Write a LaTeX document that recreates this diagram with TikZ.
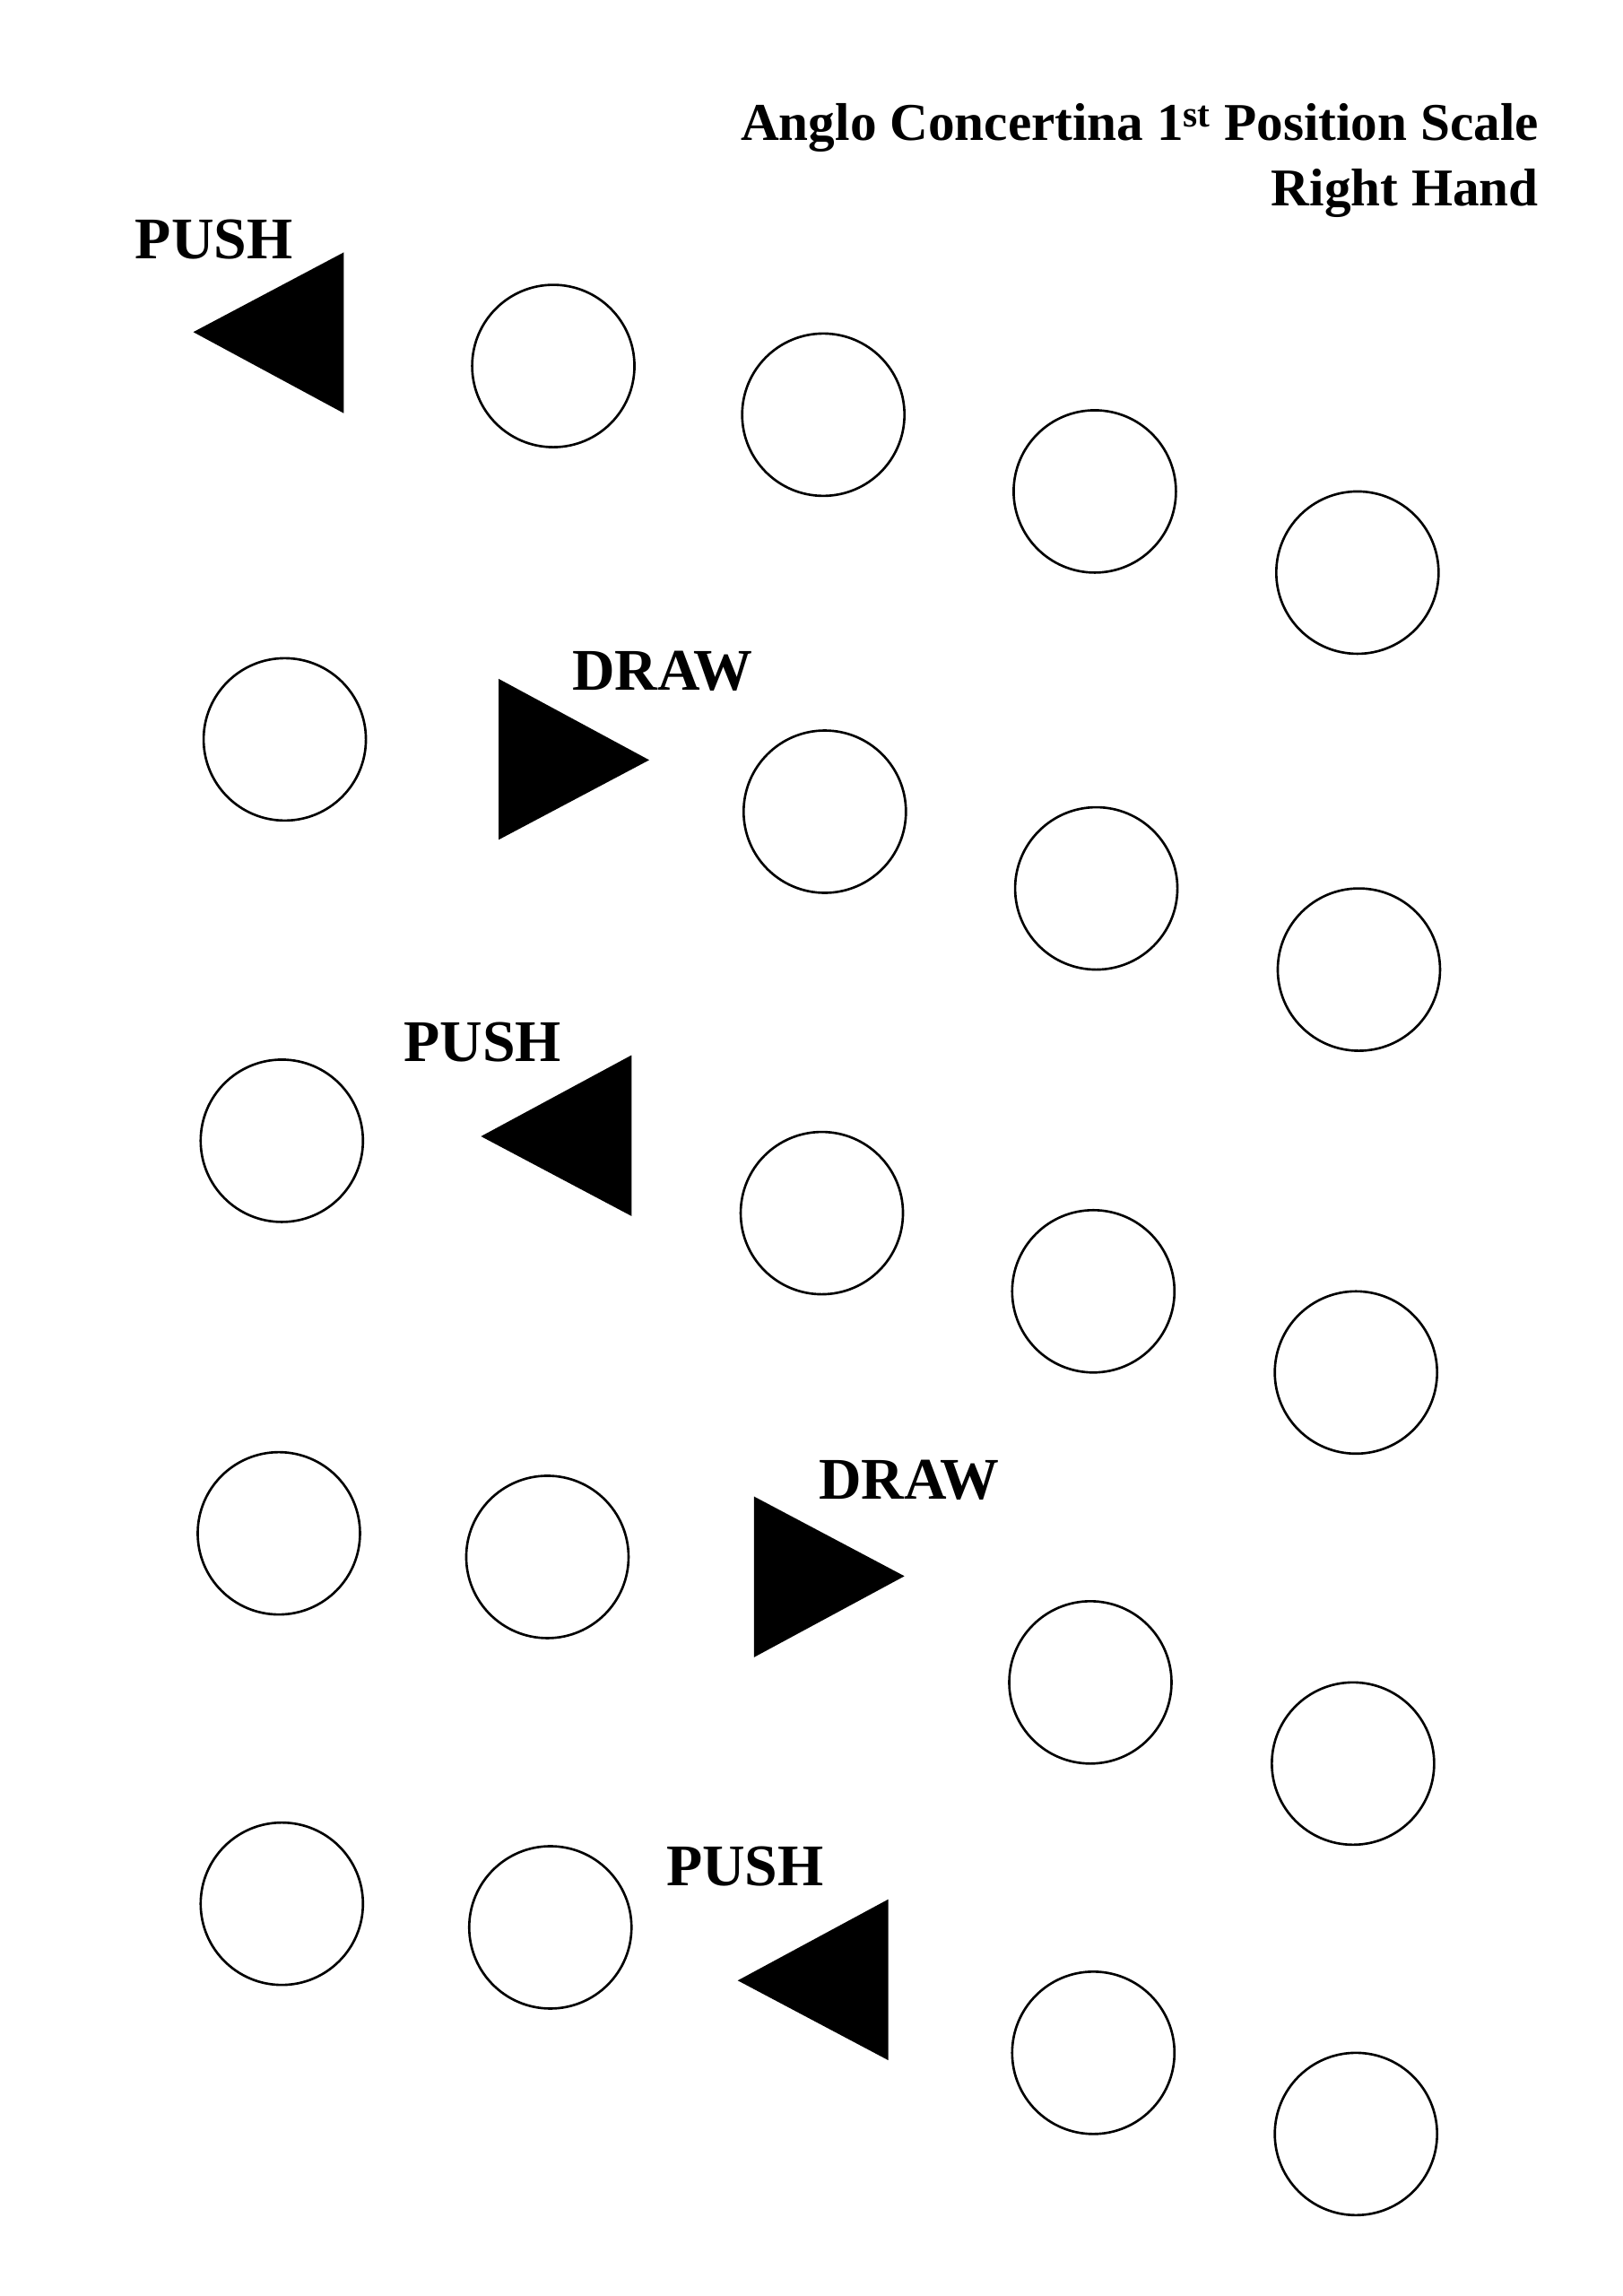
\documentclass[tikz,border=0pt]{standalone}
\usepackage{fontspec}
\setmainfont{Liberation Serif}
\begin{document}
\begin{tikzpicture}[x=1pt,y=-1pt,
  key/.style={circle,draw,line width=1.6pt,minimum size=110pt,inner sep=0pt},
  lbl/.style={font=\bfseries\fontsize{40}{44}\selectfont,inner sep=0pt},
  tri/.style={fill=black}]
\useasboundingbox (0,0) rectangle (1100,1555.8);
\node[font=\bfseries\fontsize{36}{44}\selectfont,align=right,anchor=north east,inner sep=0pt] (title) at (1043,70) {Anglo Concertina 1\textsuperscript{st} Position Scale\\Right Hand};
% row 1
\node[lbl] (l1) at (145,162) {PUSH};
\fill[tri] (131,225) -- (233,171) -- (233,280) -- cycle;
\node[key] (a1) at (375,248) {}; \node[key] (a2) at (558,281) {};
\node[key] (a3) at (742,333) {}; \node[key] (a4) at (920,388) {};
% row 2
\node[key] (b1) at (193,501) {};
\node[lbl] (l2) at (449,455) {DRAW};
\fill[tri] (440,515) -- (338,460) -- (338,569) -- cycle;
\node[key] (b2) at (559,550) {}; \node[key] (b3) at (743,602) {}; \node[key] (b4) at (921,657) {};
% row 3
\node[key] (c1) at (191,773) {};
\node[lbl] (l3) at (327,706) {PUSH};
\fill[tri] (326,770) -- (428,715) -- (428,824) -- cycle;
\node[key] (c2) at (557,822) {}; \node[key] (c3) at (741,875) {}; \node[key] (c4) at (919,930) {};
% row 4
\node[key] (d1) at (189,1039) {}; \node[key] (d2) at (371,1055) {};
\node[lbl] (l4) at (616,1003) {DRAW};
\fill[tri] (613,1068) -- (511,1014) -- (511,1123) -- cycle;
\node[key] (d3) at (739,1140) {}; \node[key] (d4) at (917,1195) {};
% row 5
\node[key] (e1) at (191,1290) {}; \node[key] (e2) at (373,1306) {};
\node[lbl] (l5) at (505,1265) {PUSH};
\fill[tri] (500,1342) -- (602,1287) -- (602,1396) -- cycle;
\node[key] (e3) at (741,1391) {}; \node[key] (e4) at (919,1446) {};
\end{tikzpicture}
\end{document}
